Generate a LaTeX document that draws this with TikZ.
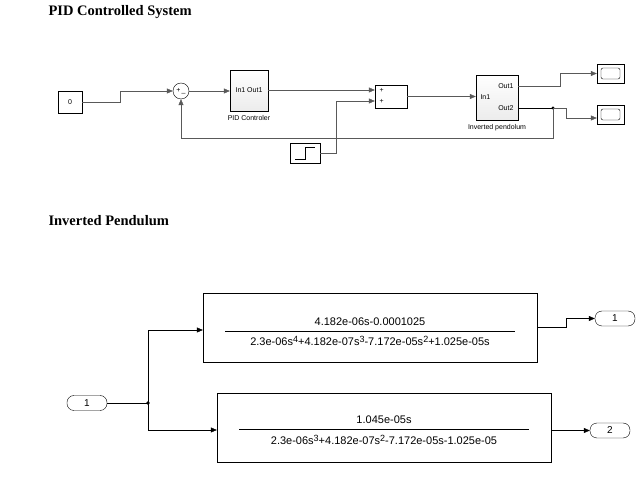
\documentclass[tikz,border=0pt]{standalone}
\usepackage{fontspec}
\setmainfont{Liberation Sans}
\newfontfamily\titlefont{Liberation Serif}
\usetikzlibrary{arrows.meta,positioning,calc}

\newcommand{\pw}[1]{\raisebox{3pt}{\fontsize{9}{10}\selectfont #1}}
\tikzset{
    blk/.style={draw, fill=white, inner sep=0pt},
    port/.style={draw, rounded corners=7pt, minimum width=40pt, minimum height=15pt, font=\fontsize{10}{11}\selectfont},
    wire/.style={-{Triangle[length=6pt,width=5pt]}, gray!70!black},
    ttl/.style={font=\titlefont\bfseries\fontsize{14.5}{16}\selectfont, anchor=west},
    tiny/.style={font=\fontsize{7}{8}\selectfont},
    tf/.style={font=\fontsize{11}{13}\selectfont}
}

\begin{document}
\begin{tikzpicture}[x=1pt,y=-1pt]
    \useasboundingbox (0,0) rectangle (641,489);

    % PID loop
    \node[ttl] (title1) at (45,12) {PID Controlled System};
    \node[blk, minimum width=24pt, minimum height=22pt, tiny] (const) at (70,102) {0};
    \node[draw, circle, minimum size=16pt, inner sep=0pt, tiny] (sum) at (181,91) {+\,\_};
    \node[blk, top color=white, bottom color=gray!15, minimum width=38pt, minimum height=41pt] (pid) at (249,90.5) {};
    \node[tiny] at (pid.center) {In1 Out1};
    \node[tiny, below=1pt of pid] (pidlbl) {PID Controler};
    \node[blk, minimum width=32pt, minimum height=23pt] (add) at (391,96.5) {};
    \node[tiny, anchor=west] at (376,90) {+};
    \node[tiny, anchor=west] at (376,101) {+};
    \node[blk, minimum width=30pt, minimum height=20pt] (step) at (305,153) {};
    \draw (295,159) -- (305,159) -- (305,147) -- (315,147);
    \node[blk, top color=white, bottom color=gray!15, minimum width=42pt, minimum height=45pt] (pend) at (497,97.5) {};
    \node[tiny, anchor=west] at (477,97) {In1};
    \node[tiny, anchor=east] at (517,86) {Out1};
    \node[tiny, anchor=east] at (517,108) {Out2};
    \node[tiny, below=1pt of pend] (pendlbl) {Inverted pendolum};
    \node[blk, minimum width=27pt, minimum height=19pt] (scope1) at (610.5,73.5) {};
    \node[blk, minimum width=27pt, minimum height=19pt] (scope2) at (610.5,114.5) {};
    \draw[rounded corners=2pt] (601,68) rectangle (620,79);
    \draw[rounded corners=2pt] (601,109) rectangle (620,120);
    \coordinate (split) at (553,108);
    \fill (split) circle (1.6pt);

    \draw[wire] (const.east) -- (120,102) -- (120,91) -- (sum.west);
    \draw[wire] (sum.east) -- (pid.west |- sum);
    \draw[wire] (pid.east |- 0,90) -- (add.west |- 0,90);
    \draw[wire] (step.east) -- (336,153) -- (336,101) -- (add.west |- 0,101);
    \draw[wire] (add.east) -- (pend.west |- add);
    \draw[wire] (pend.east |- 0,86) -- (560,86) -- (560,73.5) -- (scope1.west);
    \draw (pend.east |- split) -- (split);
    \draw[wire] (split) -- (566,108) -- (566,118) -- (scope2.west |- 0,118);
    \draw[wire] (split) -- (553,138) -- (181,138) -- (sum.south);

    % transfer functions
    \node[ttl] (title2) at (45,221) {Inverted Pendulum};
    \node[blk, minimum width=334pt, minimum height=69pt] (tf1) at (370,327.5) {};
    \node[tf] at (370,322) {4.182e-06s-0.0001025};
    \draw (225,331) -- (515,331);
    \node[tf] at (370,341) {2.3e-06s\pw{4}+4.182e-07s\pw{3}-7.172e-05s\pw{2}+1.025e-05s};
    \node[blk, minimum width=334pt, minimum height=69pt] (tf2) at (384,427.5) {};
    \node[tf] at (384,420) {1.045e-05s};
    \draw (239,429) -- (529,429);
    \node[tf] at (384,440) {2.3e-06s\pw{3}+4.182e-07s\pw{2}-7.172e-05s-1.025e-05};
    \node[port] (in1) at (87,403) {1};
    \node[port] (out1) at (615,318.5) {1};
    \node[port] (out2) at (610,430.5) {2};
    \coordinate (fork) at (148,403);
    \fill (fork) circle (1.8pt);

    \draw (in1.east) -- (fork);
    \draw[wire, black] (fork) -- (148,330) -- (tf1.west |- 0,330);
    \draw[wire, black] (fork) -- (148,430) -- (tf2.west |- 0,430);
    \draw[wire, black] (tf1.east) -- (566,327.5) -- (566,318.5) -- (out1.west);
    \draw[wire, black] (tf2.east |- out2) -- (out2.west);
\end{tikzpicture}
\end{document}
